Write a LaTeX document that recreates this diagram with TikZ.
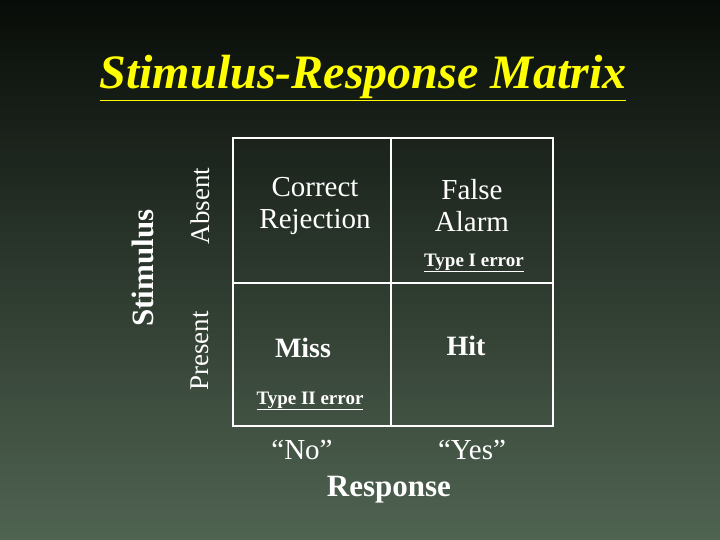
\documentclass[tikz,border=0pt]{standalone}
\usepackage{fontspec}
\setmainfont{Liberation Serif}
\begin{document}
\begin{tikzpicture}[x=1pt,y=-1pt,
  lbl/.style={text=white,align=center,inner sep=0pt,font=\fontsize{29}{32}\selectfont},
  err/.style={text=white,inner sep=0pt,font=\fontsize{19}{21}\selectfont\bfseries},
  side/.style={text=white,rotate=90,inner sep=0pt,font=\fontsize{27}{29}\selectfont},
  grid/.style={draw=white,line width=2.5pt}]
\shade[top color={rgb,255:red,8;green,12;blue,8},bottom color={rgb,255:red,80;green,100;blue,82}] (0,0) rectangle (720,540);
\useasboundingbox (0,0) rectangle (720,540);
\node[inner sep=0pt,text={rgb,255:red,255;green,255;blue,0},font=\fontsize{48}{50}\selectfont\bfseries\itshape] (title) at (363,78) {\underline{Stimulus-Response Matrix}};
\draw[grid] (233,138) rectangle (553,426);
\coordinate (vt) at (391,138); \coordinate (vb) at (391,426);
\coordinate (hl) at (233,283); \coordinate (hr) at (553,283);
\draw[grid] (vt) -- (vb);
\draw[grid] (hl) -- (hr);
\node[lbl] (cr) at (315,206) {Correct\\Rejection};
\node[lbl] (fa) at (472,206) {False\\Alarm};
\node[err] (t1) at (474,263) {\underline{Type I error}};
\node[lbl,font=\fontsize{28}{30}\selectfont\bfseries] (miss) at (303,348) {Miss};
\node[lbl,font=\fontsize{28}{30}\selectfont\bfseries] (hit) at (466,346) {Hit};
\node[err] (t2) at (310,401) {\underline{Type II error}};
\node[lbl] (no) at (302,450) {“No”};
\node[lbl] (yes) at (472,450) {“Yes”};
\node[lbl,font=\fontsize{31}{33}\selectfont\bfseries] (resp) at (389,490) {Response};
\node[side,font=\fontsize{31}{33}\selectfont\bfseries] (stim) at (143,268) {Stimulus};
\node[side] (abs) at (200,206) {Absent};
\node[side] (pres) at (200,351) {Present};
\end{tikzpicture}
\end{document}
